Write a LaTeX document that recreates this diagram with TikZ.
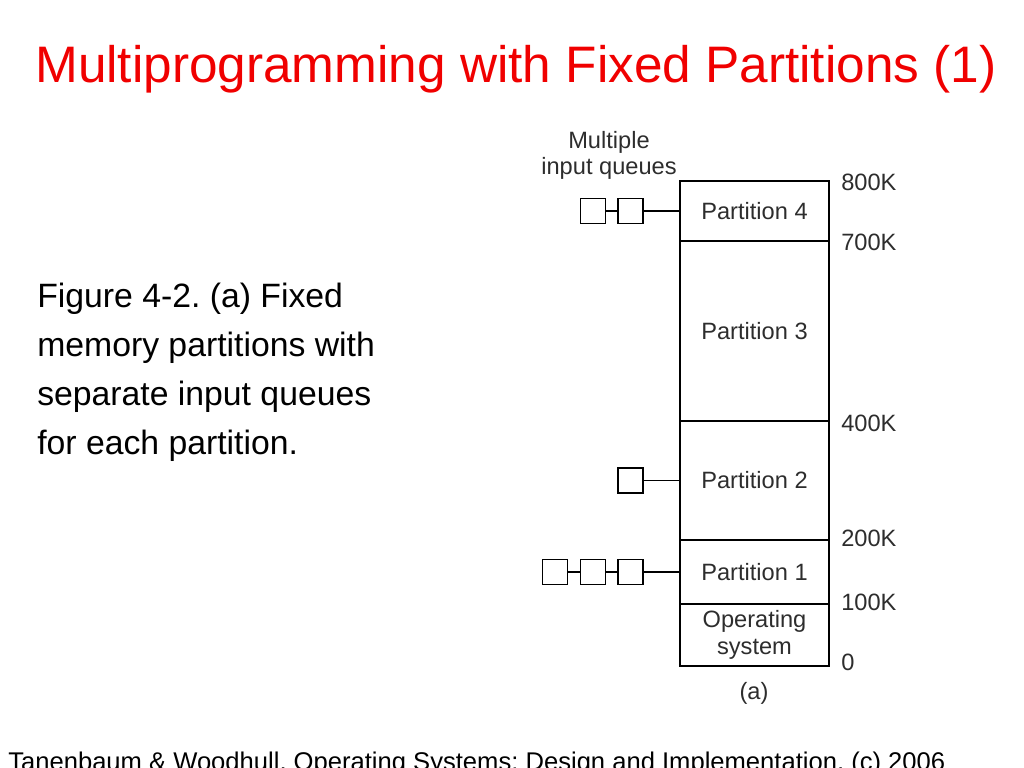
\documentclass[tikz,border=0pt]{standalone}
\usepackage{fontspec}
\setmainfont{Liberation Sans}
\frenchspacing
\definecolor{titlered}{RGB}{240,0,0}
\definecolor{figgray}{RGB}{45,45,45}
\tikzset{
  part/.style={draw, line width=1.4pt, minimum width=3.725cm, inner sep=0pt,
    text=figgray, font={\fontsize{16.8}{19}\selectfont}, align=center},
  qbox/.style={draw, line width=1.4pt, minimum size=0.625cm, inner sep=0pt},
  addr/.style={anchor=west, inner sep=0pt, text=figgray,
    font={\fontsize{16.8}{19}\selectfont}},
}
\begin{document}
\begin{tikzpicture}[x=0.025cm, y=-0.025cm]
                
                % Page
                \clip (0,0) rectangle (1024,768);
                \useasboundingbox (0,0) rectangle (1024,768);
                % Title
                \node[anchor=base west, inner sep=0pt, text=titlered,
                font={\fontsize{36.5}{44}\selectfont}] (title)
                at (35,83) {Multiprogramming with Fixed Partitions (1)};
                % Caption
                \node[anchor=north west, inner sep=0pt, align=left,
                font={\fontsize{24}{34.7}\selectfont}] (caption)
                at (37,283) {Figure 4-2. (a) Fixed\\
                memory partitions with\\
                separate input queues\\
                for each partition.};
                % Footer
                \node[anchor=base west, inner sep=0pt,
                font={\fontsize{18.2}{22}\selectfont}] (footer)
                at (8,770) {Tanenbaum \& Woodhull, Operating Systems: Design and Implementation, (c) 2006};
                
                % Partitions
                \node[part, minimum height=1.5cm]   (p4) at (754.5,211)   {Partition 4};
                \node[part, minimum height=4.5cm]   (p3) at (754.5,331)   {Partition 3};
                \node[part, minimum height=2.975cm] (p2) at (754.5,480.5) {Partition 2};
                \node[part, minimum height=1.6cm]   (p1) at (754.5,572)   {Partition 1};
                \node[part, minimum height=1.55cm]  (os) at (754.5,635)   {Operating\\system};
                % Addresses
                \node[addr] (a800) at (841,182) {800K};
                \node[addr] (a700) at (841,242) {700K};
                \node[addr] (a400) at (841,423) {400K};
                \node[addr] (a200) at (841,538) {200K};
                \node[addr] (a100) at (841,602) {100K};
                \node[addr] (a0)   at (841,662) {0};
                
                % Queues
                \node[qbox] (q4a) at (593,211)   {};
                \node[qbox] (q4b) at (630.5,211) {};
                \node[qbox] (q2a) at (630.5,480.5) {};
                \node[qbox] (q1a) at (555,572)   {};
                \node[qbox] (q1b) at (593,572)   {};
                \node[qbox] (q1c) at (630.5,572) {};
                \draw[line width=1.4pt] (q4a) -- (q4b) -- (p4);
                \draw[line width=1.4pt] (q2a) -- (p2);
                \draw[line width=1.4pt] (q1a) -- (q1b) -- (q1c) -- (p1);
                \node[text=figgray, align=center, inner sep=0pt,
                font={\fontsize{16.8}{18.4}\selectfont}] (qlabel)
                at (609,155) {Multiple\\input queues};
                \node[text=figgray, inner sep=0pt,
                font={\fontsize{16.8}{19}\selectfont}] (sub)
                at (754,693) {(a)};
                
            \end{tikzpicture}
\end{document}
